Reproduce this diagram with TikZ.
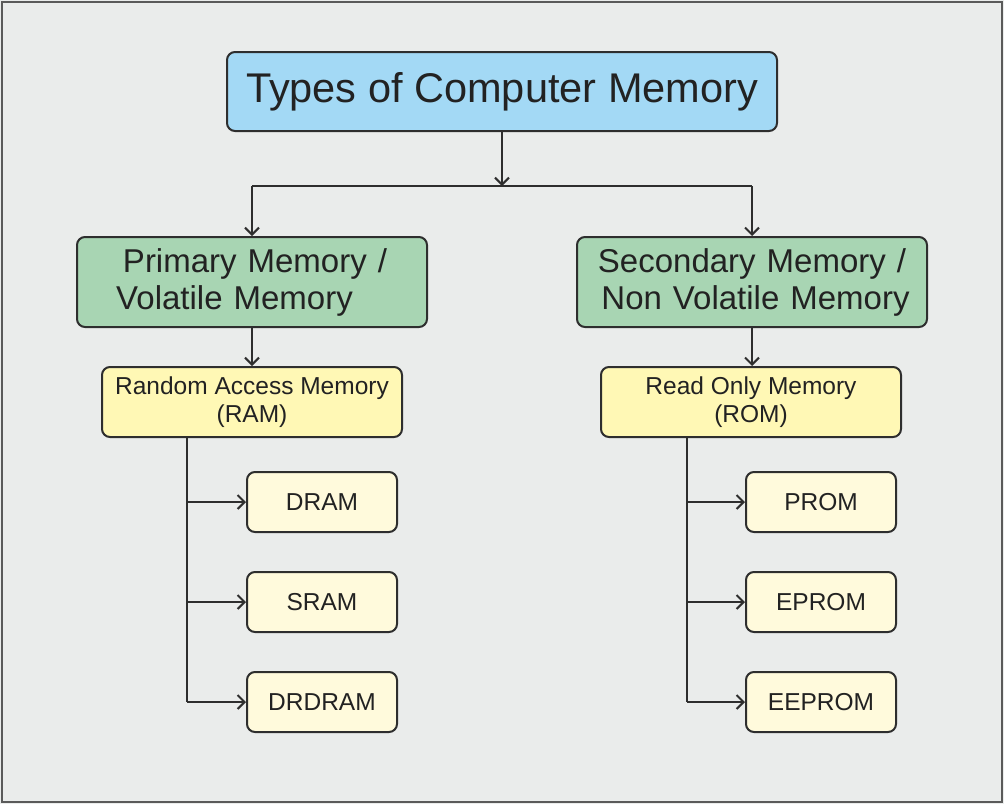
\documentclass[tikz,border=0pt]{standalone}
\usepackage{fontspec}
\setmainfont{Liberation Sans}
\usetikzlibrary{arrows.meta}
\definecolor{bgc}{HTML}{EAECEB}
\definecolor{framec}{HTML}{5A5A5A}
\definecolor{linec}{HTML}{2E2E2E}
\definecolor{txtc}{HTML}{222222}
\definecolor{bluec}{HTML}{A3D9F5}
\definecolor{greenc}{HTML}{A8D5B3}
\definecolor{yellowc}{HTML}{FFF8B5}
\definecolor{creamc}{HTML}{FFFADC}
\begin{document}
\begin{tikzpicture}[x=1pt,y=-1pt,
  box/.style={draw=linec, line width=2pt, rounded corners=8pt, text=txtc, inner sep=0pt, align=center},
  topbox/.style={box, fill=bluec, minimum width=550pt, minimum height=79pt, font=\fontsize{41.5}{48}\selectfont},
  grnbox/.style={box, fill=greenc, minimum width=350pt, minimum height=90pt, text width=340pt, font=\fontsize{33}{37}\selectfont},
  ylwbox/.style={box, fill=yellowc, minimum width=300pt, minimum height=70pt, font=\fontsize{24.5}{28}\selectfont},
  leafbox/.style={box, fill=creamc, minimum width=150pt, minimum height=60pt, font=\fontsize{24.5}{28}\selectfont},
  conn/.style={draw=linec, line width=2pt},
  arr/.style={conn, -{Straight Barb[length=7pt,width=14pt,line width=2pt]}}
]
\useasboundingbox (0,0) rectangle (1004,804);
\fill[bgc] (0,0) rectangle (1004,804);
\draw[framec, line width=2.5pt] (2,2) rectangle (1002,802);

\node[topbox] (top) at (502,91.5) {Types of Computer Memory};
\node[grnbox] (prim) at (252,282) {\hspace*{6pt}Primary Memory /\\Volatile Memory\hspace*{35pt}};
\node[grnbox] (sec) at (752,282) {Secondary Memory /\hspace*{12pt}\\\hspace*{7pt}Non Volatile Memory};
\node[ylwbox] (ram) at (252,402) {Random Access Memory\\(RAM)};
\node[ylwbox] (rom) at (751,402) {Read Only Memory\\(ROM)};
\node[leafbox] (dram) at (322,502) {DRAM};
\node[leafbox] (sram) at (322,602) {SRAM};
\node[leafbox] (drdram) at (322,702) {DRDRAM};
\node[leafbox] (prom) at (821,502) {PROM};
\node[leafbox] (eprom) at (821,602) {EPROM};
\node[leafbox] (eeprom) at (821,702) {EEPROM};

\coordinate (hj) at (502,186);
\coordinate (hl) at (252,186);
\coordinate (hr) at (752,186);
\coordinate (tl) at (187,437);
\coordinate (tr) at (687,437);

\draw[arr] (top.south) -- (hj);
\draw[conn] (hl) -- (hr);
\draw[arr] (hl) -- (hl |- prim.north);
\draw[arr] (hr) -- (hr |- sec.north);
\draw[arr] (prim.south) -- (ram.north -| prim.south);
\draw[arr] (sec.south) -- (sec.south |- rom.north);

\draw[conn] (tl) -- (tl |- drdram.west);
\draw[arr] (tl |- dram.west) -- (dram.west);
\draw[arr] (tl |- sram.west) -- (sram.west);
\draw[arr] (tl |- drdram.west) -- (drdram.west);

\draw[conn] (tr) -- (tr |- eeprom.west);
\draw[arr] (tr |- prom.west) -- (prom.west);
\draw[arr] (tr |- eprom.west) -- (eprom.west);
\draw[arr] (tr |- eeprom.west) -- (eeprom.west);
\end{tikzpicture}
\end{document}
